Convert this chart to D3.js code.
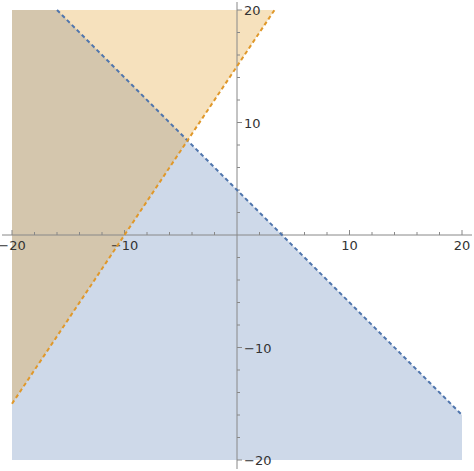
<!DOCTYPE html>
<html><head><meta charset="utf-8">
<script src="https://cdn.jsdelivr.net/npm/d3@7"></script>
<style>body{margin:0;background:#fff}</style></head>
<body><svg id="chart" width="474" height="471"></svg>
<script>
// boundary lines: blue y = 4 - x, orange y = 1.5x + 15
const blueLine = [[-16, 20], [20, -16]];
const orangeLine = [[-20, -15], [10 / 3, 20]];
const blueRegion = [[-20, 20], [-16, 20], [20, -16], [20, -20], [-20, -20]];
const orangeRegion = [[-20, -15], [10 / 3, 20], [-20, 20]];
const majorTicks = [-20, -10, 10, 20];
const minorTicks = d3.range(-20, 21, 2).filter(d => d !== 0);

const svg = d3.select("#chart");
const x = d3.scaleLinear().domain([-20, 20]).range([12, 462]);
const y = d3.scaleLinear().domain([-20, 20]).range([460, 10]);
const line = d3.line().x(d => x(d[0])).y(d => y(d[1]));

svg.append("path").attr("d", line(blueRegion) + "Z")
  .attr("fill", "#5e81b5").attr("fill-opacity", 0.3);
svg.append("path").attr("d", line(orangeRegion) + "Z")
  .attr("fill", "#e19c24").attr("fill-opacity", 0.3);

// axes
const ax = svg.append("g").attr("stroke", "#888").attr("stroke-width", 1);
ax.append("line").attr("x1", 2).attr("x2", 472).attr("y1", y(0)).attr("y2", y(0));
ax.append("line").attr("y1", 2).attr("y2", 469).attr("x1", x(0)).attr("x2", x(0));
minorTicks.forEach(t => {
  const len = majorTicks.includes(t) ? 5 : 3;
  ax.append("line").attr("x1", x(t)).attr("x2", x(t)).attr("y1", y(0)).attr("y2", y(0) - len);
  ax.append("line").attr("y1", y(t)).attr("y2", y(t)).attr("x1", x(0)).attr("x2", x(0) + len);
});
const lab = svg.append("g").attr("font-family", "DejaVu Sans, sans-serif")
  .attr("font-size", 13).attr("fill", "#333");
majorTicks.forEach(t => {
  lab.append("text").attr("x", x(t)).attr("y", y(0) + 15).attr("text-anchor", "middle")
    .text(t < 0 ? "\u2212" + (-t) : t);
  lab.append("text").attr("x", x(0) + 7).attr("y", y(t) + 5)
    .text(t < 0 ? "\u2212" + (-t) : t);
});

svg.append("path").attr("d", line(blueLine)).attr("fill", "none")
  .attr("stroke", "#4f75ad").attr("stroke-width", 2).attr("stroke-dasharray", "4,3");
svg.append("path").attr("d", line(orangeLine)).attr("fill", "none")
  .attr("stroke", "#e0982a").attr("stroke-width", 2).attr("stroke-dasharray", "4,3");
</script></body></html>
